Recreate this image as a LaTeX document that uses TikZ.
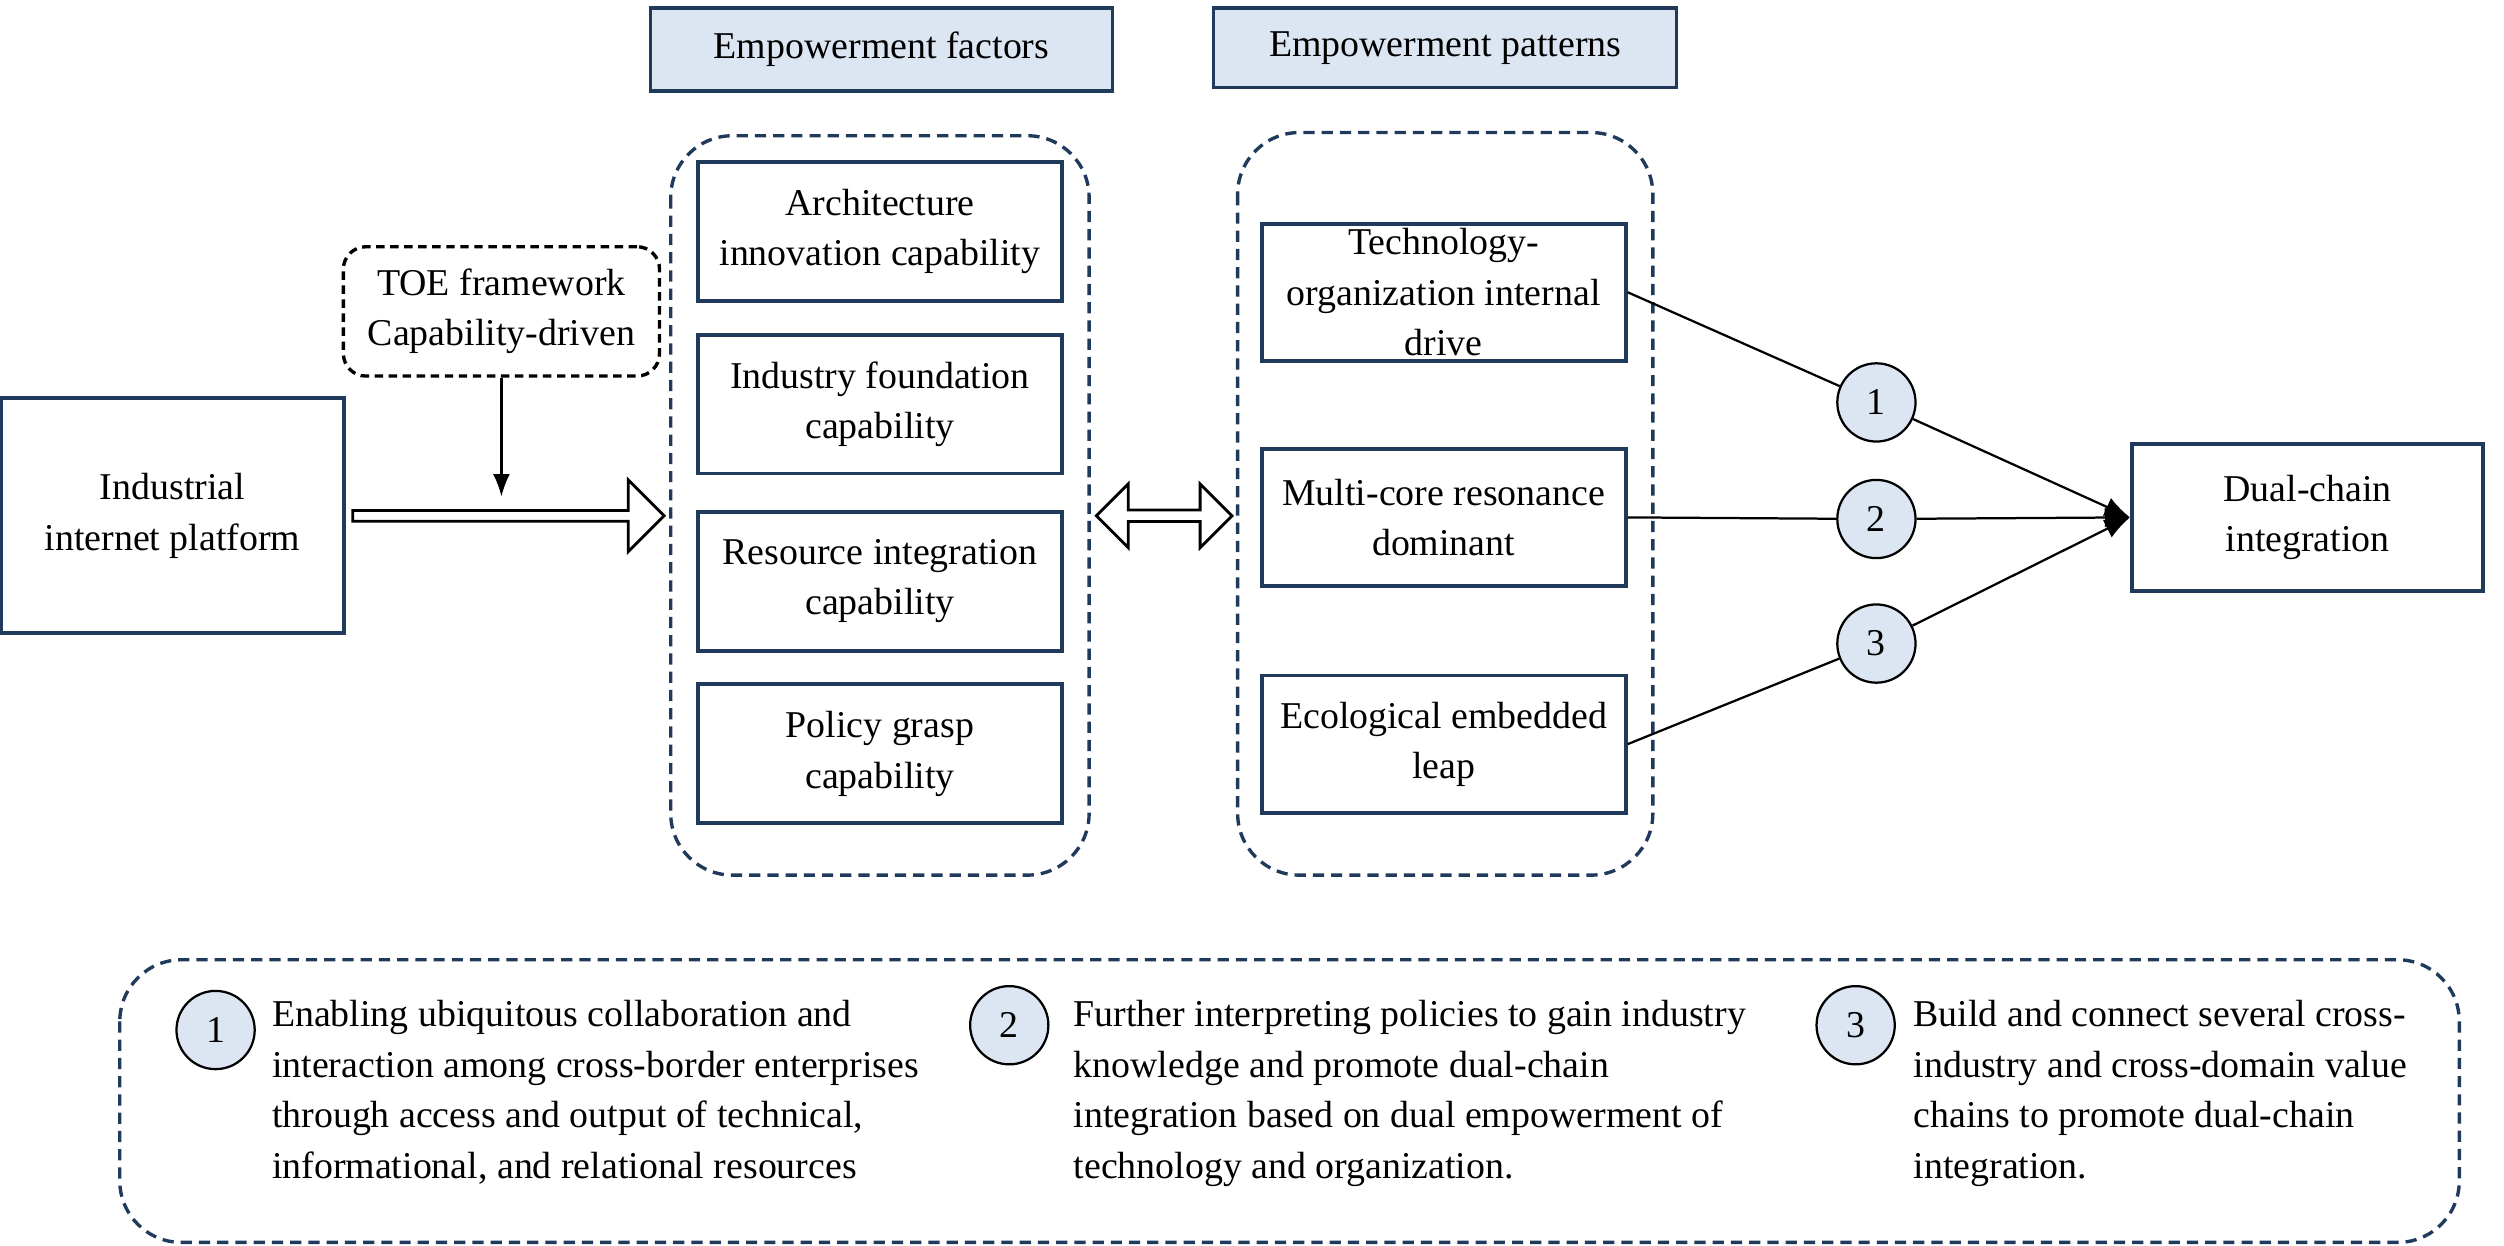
\documentclass[tikz,border=0pt]{standalone}
\usepackage{fontspec}
\setmainfont{Liberation Serif}
\usetikzlibrary{shapes.arrows,arrows.meta}
\definecolor{frame}{HTML}{1F3A5A}
\definecolor{pale}{HTML}{DCE6F2}
\tikzset{
  box/.style={draw=frame,line width=1.4pt,align=center,inner sep=0pt},
  head/.style={box,fill=pale,line width=1.2pt},
  group/.style={draw=frame,line width=1.2pt,dash pattern=on 4pt off 2.5pt,rounded corners=22pt},
  num/.style={circle,draw=black,fill=pale,line width=0.8pt,minimum size=0.98cm,inner sep=0pt},
  note/.style={align=left,anchor=north west,inner sep=0pt},
}
\begin{document}
\begin{tikzpicture}[x=0.02cm,y=-0.02cm,font=\fontsize{13.5}{18}\selectfont]
\useasboundingbox (0,0) rectangle (1568,780);
% left side
\node[box,minimum width=4.3cm,minimum height=2.94cm] (platform) at (108,323) {Industrial\\internet platform};
\node[draw,line width=1.2pt,dash pattern=on 3pt off 2pt,rounded corners=8pt,align=center,
  minimum width=3.96cm,minimum height=1.62cm,inner sep=0pt] (toe) at (314,195) {TOE framework\\Capability-driven};
\node[single arrow,draw,line width=1pt,fill=white,minimum height=3.9cm,minimum width=0.9cm,
  single arrow head extend=0.1cm,single arrow tip angle=90,inner sep=0pt,anchor=tail] (push) at (220,323) {};
\coordinate (hit) at (314,311);
\draw[line width=0.8pt,-{Latex[length=8pt]}] (toe.south) -- (hit);
% empowerment factors
\node[head,minimum width=5.78cm,minimum height=1.04cm] (factors) at (552,31) {Empowerment factors};
\draw[group] (420,85) rectangle (682,548);
\node[box,minimum width=4.56cm,minimum height=1.74cm] (arch) at (551,145) {Architecture\\innovation capability};
\node[box,minimum width=4.56cm,minimum height=1.74cm] (found) at (551,253) {Industry foundation\\capability};
\node[box,minimum width=4.56cm,minimum height=1.74cm] (res) at (551,364) {Resource integration\\capability};
\node[box,minimum width=4.56cm,minimum height=1.74cm] (policy) at (551,472) {Policy grasp\\capability};
\node[double arrow,draw,line width=1pt,fill=white,minimum height=1.7cm,minimum width=0.8cm,
  double arrow head extend=0.08cm,inner sep=0pt] (link) at (729,323) {};
% empowerment patterns
\node[head,minimum width=5.8cm,minimum height=1.0cm] (patterns) at (905,30) {Empowerment patterns};
\draw[group] (775,83) rectangle (1035,548);
\node[box,minimum width=4.56cm,minimum height=1.72cm] (tech) at (904,183) {Technology-\\organization internal\\drive};
\node[box,minimum width=4.56cm,minimum height=1.72cm] (multi) at (904,324) {Multi-core resonance\\dominant};
\node[box,minimum width=4.56cm,minimum height=1.72cm] (eco) at (904,466) {Ecological embedded\\leap};
% paths
\node[num] (c1) at (1175,252) {1};
\node[num] (c2) at (1175,325) {2};
\node[num] (c3) at (1175,403) {3};
\node[box,minimum width=4.4cm,minimum height=1.84cm] (dual) at (1445,324) {Dual-chain\\integration};
\draw[line width=0.8pt] (tech.east) -- (c1);
\draw[line width=0.8pt] (multi.east) -- (c2);
\draw[line width=0.8pt] (eco.east) -- (c3);
\draw[line width=0.8pt,-{Latex[length=9pt,width=7pt]}] (c1) -- (dual.west);
\draw[line width=0.8pt,-{Latex[length=9pt,width=7pt]}] (c2) -- (dual.west);
\draw[line width=0.8pt,-{Latex[length=9pt,width=7pt]}] (c3) -- (dual.west);
% legend
\draw[group] (75,601) rectangle (1540,778);
\node[num] (k1) at (135,645) {1};
\node[note] (t1) at (170,626) {Enabling ubiquitous collaboration and\\interaction among cross-border enterprises\\through access and output of technical,\\informational, and relational resources};
\node[num] (k2) at (632,642) {2};
\node[note] (t2) at (672,626) {Further interpreting policies to gain industry\\knowledge and promote dual-chain\\integration based on dual empowerment of\\technology and organization.};
\node[num] (k3) at (1162,642) {3};
\node[note] (t3) at (1198,626) {Build and connect several cross-\\industry and cross-domain value\\chains to promote dual-chain\\integration.};
\end{tikzpicture}
\end{document}
